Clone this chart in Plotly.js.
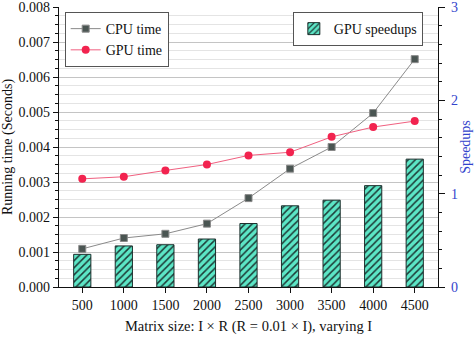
<!DOCTYPE html>
<html>
<head>
<meta charset="utf-8">
<script src="https://cdn.plot.ly/plotly-3.0.1.min.js"></script>
<style>html,body{margin:0;padding:0;background:#fff;}#chart{width:474px;height:337px;}</style>
</head>
<body>
<div id="chart"></div>
<script>
const matrixSizes = [500, 1000, 1500, 2000, 2500, 3000, 3500, 4000, 4500];
const cpuTime = [0.00109, 0.00140, 0.00152, 0.00181, 0.00254, 0.00338, 0.00400, 0.00497, 0.00651];
const gpuTime = [0.00309, 0.00315, 0.00333, 0.00350, 0.00376, 0.00385, 0.00429, 0.00457, 0.00474];
const gpuSpeedups = [0.35, 0.44, 0.453, 0.514, 0.68, 0.87, 0.93, 1.086, 1.37];
const leftTicks = [0, 0.001, 0.002, 0.003, 0.004, 0.005, 0.006, 0.007, 0.008];
const leftTickText = ["0.000","0.001","0.002","0.003","0.004","0.005","0.006","0.007","0.008"];

const serif = "Liberation Serif";

const traces = [
  {
    x: matrixSizes, y: gpuSpeedups, type: 'bar', name: 'GPU speedups',
    yaxis: 'y2', legend: 'legend2', width: 207,
    marker: {
      color: '#5ce6c6',
      line: {color: '#1c2e2c', width: 1},
      pattern: {shape: '/', fgcolor: '#1d3a36', bgcolor: '#5ce6c6', size: 5, solidity: 0.3}
    }
  },
  {
    x: matrixSizes, y: cpuTime, type: 'scatter', mode: 'lines+markers', name: 'CPU time',
    line: {color: '#8a8a8a', width: 1},
    marker: {symbol: 'square', size: 7, color: '#4a5552', line: {color: '#8a8a8a', width: 1}}
  },
  {
    x: matrixSizes, y: gpuTime, type: 'scatter', mode: 'lines+markers', name: 'GPU time',
    line: {color: '#f06080', width: 1},
    marker: {symbol: 'circle', size: 8, color: '#f2234f', line: {color: '#f2234f', width: 0}}
  }
];

const layout = {
  width: 474, height: 337,
  margin: {l: 59, r: 36, t: 7, b: 50},
  paper_bgcolor: '#fff', plot_bgcolor: '#fff',
  font: {family: serif, size: 14, color: '#111'},
  showlegend: true,
  xaxis: {
    range: [220, 4780], tickvals: matrixSizes, ticktext: matrixSizes.map(String),
    showgrid: false, zeroline: false, showline: true, linecolor: '#111', linewidth: 1.2,
    ticks: 'outside', ticklen: 5, tickcolor: '#111',
    tickfont: {family: serif, size: 14, color: '#111'},
    title: {text: 'Matrix size: I × R (R = 0.01 × I), varying I', font: {family: serif, size: 14.5, color: '#111'}, standoff: 8}
  },
  yaxis: {
    range: [0, 0.008], tickvals: leftTicks, ticktext: leftTickText, ticklabeloverflow: 'allow',
    showgrid: true, gridcolor: '#c4c4c4', gridwidth: 1,
    zeroline: false, showline: true, linecolor: '#111', linewidth: 1.2,
    ticks: 'outside', ticklen: 5, tickcolor: '#111',
    minor: {dtick: 0.00025, ticks: 'outside', ticklen: 3, tickcolor: '#111', showgrid: true, gridcolor: '#e4e4e4'},
    tickfont: {family: serif, size: 14, color: '#111'},
    title: {text: 'Running time (Seconds)', font: {family: serif, size: 14, color: '#111'}, standoff: 3}
  },
  yaxis2: {
    overlaying: 'y', side: 'right', range: [0, 3], tickvals: [0, 1, 2, 3], ticklabeloverflow: 'allow',
    showgrid: false, zeroline: false, showline: true, linecolor: '#111', linewidth: 1.2,
    ticks: 'outside', ticklen: 6, tickcolor: '#111', ticklabelstandoff: 3,
    minor: {dtick: 0.2, ticks: 'outside', ticklen: 3, tickcolor: '#111', showgrid: false},
    tickfont: {family: serif, size: 14, color: '#3344cc'},
    title: {text: 'Speedups', font: {family: serif, size: 14, color: '#3344cc'}, standoff: 3}
  },
  legend: {
    x: 0.015, y: 0.982, xanchor: 'left', yanchor: 'top',
    bordercolor: '#555', borderwidth: 1, bgcolor: '#fff',
    font: {family: serif, size: 14, color: '#111'},
    tracegroupgap: 0, itemwidth: 30, traceorder: 'normal'
  },
  legend2: {
    x: 0.96, y: 0.982, xanchor: 'right', yanchor: 'top',
    bordercolor: '#555', borderwidth: 1, bgcolor: '#fff',
    font: {family: serif, size: 14, color: '#111'}
  },
  bargap: 0
};

Plotly.newPlot('chart', traces, layout, {displayModeBar: false, staticPlot: true});
</script>
</body>
</html>
